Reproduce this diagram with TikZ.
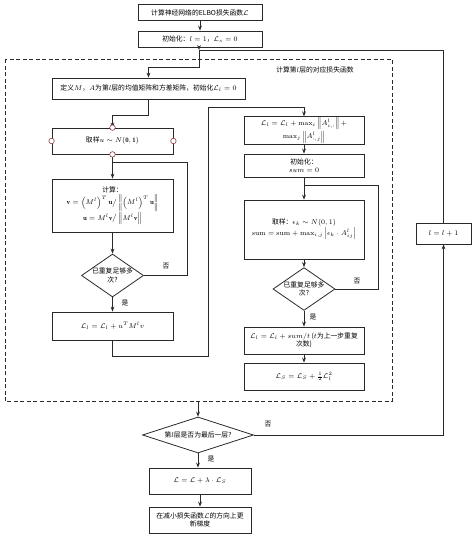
\documentclass[tikz,border=0pt]{standalone}
\usepackage{fontspec}
\usepackage{amsmath,amssymb}
\newfontfamily\cjk{Noto Sans CJK SC}
\usetikzlibrary{shapes.geometric,arrows.meta}
\definecolor{lncol}{HTML}{2A2A2A}
\definecolor{circcol}{HTML}{8B3A3A}
\tikzset{
 box/.style={draw=lncol, line width=0.8pt, fill=white, inner sep=1pt, align=center, font=\cjk\fontsize{6.8}{8.2}\selectfont},
 dia/.style={draw=lncol, line width=0.8pt, shape=diamond, inner sep=0pt, align=center, fill=white, font=\cjk\fontsize{6.8}{8.2}\selectfont},
 arr/.style={draw=lncol, line width=0.8pt, -{Stealth[length=5pt,width=3.8pt]}},
 conn/.style={draw=lncol, line width=0.8pt},
 circ/.style={circle, draw=circcol, fill=white, minimum size=5.5pt, inner sep=0pt, line width=0.6pt},
 lab/.style={font=\cjk\fontsize{6.8}{8.2}\selectfont, inner sep=0pt},
}
\begin{document}
\begin{tikzpicture}[x=1pt,y=-1pt]
\useasboundingbox (0,0) rectangle (474,538);
\fill[white] (0,0) rectangle (474,538);
% dashed sub-process frame
\draw[conn, dash pattern=on 4pt off 2.5pt] (5,59) rectangle (392,401);
\node[lab] (title) at (315,70) {计算第$l$层的对应损失函数};
% main column
\node[box, minimum width=124pt, minimum height=16pt] (b1) at (200,12.5) {计算神经网络的ELBO损失函数$\mathcal{L}$};
\node[box, minimum width=124pt, minimum height=16pt] (b2) at (200,39) {初始化：$l=1$，$\mathcal{L}_s=0$};
\coordinate (J) at (199,50);
\node[box, minimum width=193pt, minimum height=21pt] (b3) at (148.5,88.5) {定义$M$，$A$为第$l$层的均值矩阵和方差矩阵，初始化$\mathcal{L}_l=0$};
% left column
\node[box, minimum width=121pt, minimum height=26pt] (b4) at (112.5,141) {取样$u\sim N(\mathbf{0},\mathbf{1})$};
\node[box, minimum width=121pt, minimum height=53pt] (b5) at (112.5,205.5) {计算：\\[1pt] $\mathbf{v}=\left(M^l\right)^T\mathbf{u}\big/\left\|\left(M^l\right)^T\mathbf{u}\right\|$\\ $\mathbf{u}=M^l\mathbf{v}\big/\left\|M^l\mathbf{v}\right\|$};
\node[dia, aspect=1.44, minimum width=62pt, minimum height=43pt] (d1) at (112.5,275.5) {已重复足够多\\次?};
\node[box, minimum width=121pt, minimum height=28pt] (b6) at (112.5,326) {$\mathcal{L}_l=\mathcal{L}_l+u^TM^lv$};
% right column
\node[box, minimum width=120pt, minimum height=27pt] (b7) at (304,130.5) {$\mathcal{L}_l=\mathcal{L}_l+\max_i\left\|A^l_{i,:}\right\|+$\\ $\max_j\left\|A^l_{:,j}\right\|$};
\node[box, minimum width=120pt, minimum height=23pt] (b8) at (304,165.5) {初始化：\\ $sum=0$};
\node[box, minimum width=120pt, minimum height=59pt] (b9) at (304,229.5) {取样：$\epsilon_k\sim N(0,1)$\\ $\mathrm{sum}=\mathrm{sum}+\max_{i,j}\left|\epsilon_k\cdot A^l_{ij}\right|$};
\node[dia, aspect=1.44, minimum width=62pt, minimum height=42pt] (d2) at (304,289) {已重复足够多\\次?};
\node[box, minimum width=120pt, minimum height=27pt] (b10) at (304,340.5) {$\mathcal{L}_l=\mathcal{L}_l+sum/t$ ($t$为上一步重复\\次数)};
\node[box, minimum width=120pt, minimum height=27pt] (b11) at (304,376.5) {$\mathcal{L}_S=\mathcal{L}_S+\frac{1}{2}\mathcal{L}_l^2$};
% bottom
\coordinate (D) at (198,401);
\node[dia, aspect=3, minimum width=111pt, minimum height=36pt] (d3) at (198,435) {第$l$层是否为最后一层?};
\node[box, minimum width=102pt, minimum height=26pt] (b12) at (200,481) {$\mathcal{L}=\mathcal{L}+\lambda\cdot\mathcal{L}_S$};
\node[box, minimum width=102pt, minimum height=26pt] (b13) at (200,520) {在减小损失函数$\mathcal{L}$的方向上更\\新梯度};
\node[box, minimum width=55pt, minimum height=21pt] (bl) at (443.5,233.5) {$l=l+1$};
% loop coordinates
\coordinate (L1) at (187,162);
\coordinate (L2) at (208,356);
\coordinate (L3) at (208,107);
\coordinate (R1) at (378,185);
% connectors
\draw[arr] (b1) -- (b2);
\draw[arr] (b2.south -| J) -- (J);
\draw[arr] (J) -- ++(0,17) -| (b3.north);
\draw[arr] (b3.south) -- ++(0,16) -| (b4.north);
\draw[arr] (b4.south) -- (b5.north);
\draw[arr] (b5.south) -- (d1.north);
\draw[conn] (d1.east) -| (L1) -- (L1 -| b4.south);
\draw[arr] (d1.south) -- (b6.north);
\draw[arr] (b6.south) |- (L2) -- (L3) -| (b7.north);
\draw[arr] (b7) -- (b8);
\draw[arr] (b8) -- (b9);
\draw[conn] (d2.east) -| (R1) -- (R1 -| b8.south);
\draw[arr] (b9) -- (d2);
\draw[arr] (d2) -- (b10);
\draw[arr] (b10) -- (b11);
\draw[arr] (D) -- (d3.north);
\draw[arr] (d3.east) -| (bl.south);
\draw[conn] (bl.north) |- (J);
\draw[arr] (d3.south) -- (b12.north -| d3.south);
\draw[arr] (b12) -- (b13);
% circles
\foreach \a in {north,south,east,west} \node[circ] at (b4.\a) {};
% labels
\node[lab] (n1) at (166,266) {否};
\node[lab] (y1) at (125,303) {是};
\node[lab] (n2) at (357,281) {否};
\node[lab] (y2) at (313,317) {是};
\node[lab] (n3) at (268,424) {否};
\node[lab] (y3) at (211,459) {是};
\end{tikzpicture}
\end{document}
